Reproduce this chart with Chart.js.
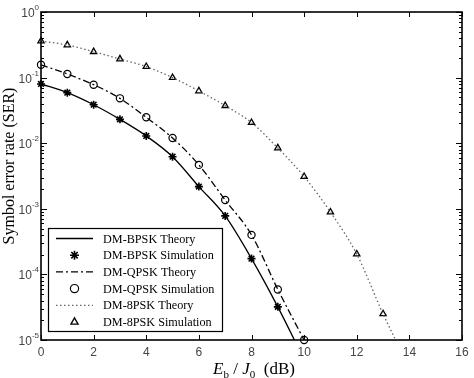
<!DOCTYPE html>
<html>
<head>
<meta charset="utf-8">
<script src="https://cdn.jsdelivr.net/npm/chart.js@4/dist/chart.umd.min.js"></script>
<style>
  html, body { margin: 0; padding: 0; background: #fff; }
  #wrap { width: 474px; height: 378px; position: relative; }
</style>
</head>
<body>
<div id="wrap"><canvas id="serChart"></canvas></div>
<script>
// Data (Eb/J0 in dB, SER)
const snrBpskSim = [0, 1, 2, 3, 4, 5, 6, 7, 8, 9];
const bpskSim = [0.080, 0.059, 0.0386, 0.0231, 0.0129, 0.00622, 0.00218, 7.8e-4, 1.74e-4, 3.2e-5];
const snrQpskSim = [0, 1, 2, 3, 4, 5, 6, 7, 8, 9, 10];
const qpskSim = [0.157, 0.1135, 0.078, 0.0483, 0.0248, 0.012, 0.00467, 0.00136, 4.0e-4, 5.9e-5, 1.0e-5];
const snr8pskSim = [0, 1, 2, 3, 4, 5, 6, 7, 8, 9, 10, 11, 12, 13];
const psk8Sim = [0.361, 0.314, 0.248, 0.192, 0.147, 0.100, 0.0625, 0.0373, 0.0206, 0.00845, 0.0031, 8.9e-4, 2.04e-4, 2.5e-5];

const snrBpskTheory = [0, 1, 2, 3, 4, 5, 6, 7, 8, 9, 10];
const bpskTheory = [0.080, 0.059, 0.0386, 0.0231, 0.0129, 0.00622, 0.00218, 7.8e-4, 1.74e-4, 3.2e-5, 5e-6];
const snrQpskTheory = [0, 1, 2, 3, 4, 5, 6, 7, 8, 9, 10];
const qpskTheory = [0.157, 0.1135, 0.078, 0.0483, 0.0248, 0.012, 0.00467, 0.00136, 4.0e-4, 5.9e-5, 1.0e-5];
const snr8pskTheory = [0, 1, 2, 3, 4, 5, 6, 7, 8, 9, 10, 11, 12, 13, 14];
const psk8Theory = [0.361, 0.314, 0.248, 0.192, 0.147, 0.100, 0.0625, 0.0373, 0.0206, 0.00845, 0.0031, 8.9e-4, 2.04e-4, 2.5e-5, 3.8e-6];

const seriesLabels = ['DM-BPSK Theory', 'DM-BPSK Simulation', 'DM-QPSK Theory',
                      'DM-QPSK Simulation', 'DM-8PSK Theory', 'DM-8PSK Simulation'];
const xTickStep = 2;
const yTickPowers = [0, -1, -2, -3, -4, -5];
const yMinorMantissas = [2, 3, 4, 5, 6, 7, 8, 9];

const toPoints = (xs, ys) => xs.map((x, i) => ({ x: x, y: ys[i] }));

const SERIF = '"Liberation Serif", "DejaVu Serif", serif';
const SANS = '"Liberation Sans", Arial, sans-serif';

// Lines and markers
const lineSet = (label, pts, dash, color) => ({
    label, data: pts, borderColor: color, borderWidth: 1.3, borderDash: dash,
    pointRadius: 0, fill: false, cubicInterpolationMode: 'monotone'
});
const markSet = (label, pts, style, radius, bw) => ({
    label, data: pts, showLine: false, pointStyle: style, pointRadius: radius,
    pointBorderWidth: bw, pointBorderColor: '#000', pointBackgroundColor: '#fff',
    borderColor: '#000', backgroundColor: '#fff', clip: false
});

const datasets = [
    lineSet(seriesLabels[0], toPoints(snrBpskTheory, bpskTheory), [], '#000'),
    markSet(seriesLabels[1], toPoints(snrBpskSim, bpskSim), 'star', 4, 1.6),
    lineSet(seriesLabels[2], toPoints(snrQpskTheory, qpskTheory), [7, 3, 2, 3], '#000'),
    markSet(seriesLabels[3], toPoints(snrQpskSim, qpskSim), 'circle', 3.6, 1.2),
    lineSet(seriesLabels[4], toPoints(snr8pskTheory, psk8Theory), [1.5, 2.5], '#666'),
    markSet(seriesLabels[5], toPoints(snr8pskSim, psk8Sim), 'triangle', 3.6, 1.3)
];

// Box, inward ticks, y labels, titles and legend
const framePlugin = {
    id: 'frame',
    afterDraw(chart) {
        const ctx = chart.ctx;
        const a = chart.chartArea;
        const xs = chart.scales.x, ys = chart.scales.y;
        ctx.save();
        ctx.strokeStyle = '#000';
        ctx.setLineDash([]);

        // x ticks, bottom and top
        ctx.lineWidth = 1;
        ctx.beginPath();
        xs.ticks.forEach(t => {
            const px = Math.round(xs.getPixelForValue(t.value)) + 0.5;
            ctx.moveTo(px, a.bottom); ctx.lineTo(px, a.bottom - 5);
            ctx.moveTo(px, a.top); ctx.lineTo(px, a.top + 5);
        });
        // y ticks, left and right
        yTickPowers.forEach(p => {
            const py = Math.round(ys.getPixelForValue(Math.pow(10, p))) + 0.5;
            ctx.moveTo(a.left, py); ctx.lineTo(a.left + 6, py);
            ctx.moveTo(a.right, py); ctx.lineTo(a.right - 6, py);
            if (p > -5) {
                yMinorMantissas.forEach(m => {
                    const my = Math.round(ys.getPixelForValue(m * Math.pow(10, p - 1))) + 0.5;
                    ctx.moveTo(a.left, my); ctx.lineTo(a.left + 3, my);
                    ctx.moveTo(a.right, my); ctx.lineTo(a.right - 3, my);
                });
            }
        });
        ctx.stroke();

        ctx.lineWidth = 1.6;
        ctx.strokeRect(a.left, a.top, a.right - a.left, a.bottom - a.top);

        // y labels 10^p
        ctx.fillStyle = '#444';
        ctx.textBaseline = 'alphabetic';
        yTickPowers.forEach(p => {
            const py = ys.getPixelForValue(Math.pow(10, p));
            const sup = String(p);
            ctx.font = '8px ' + SANS;
            const sw = ctx.measureText(sup).width;
            ctx.font = '12px ' + SANS;
            const bw = ctx.measureText('10').width;
            const right = a.left - 2;
            ctx.textAlign = 'left';
            ctx.fillText('10', right - sw - bw, py + 5);
            ctx.font = '8px ' + SANS;
            ctx.fillText(sup, right - sw, py - 2);
        });

        // y title
        ctx.fillStyle = '#000';
        ctx.save();
        ctx.translate(10, 166);
        ctx.rotate(-Math.PI / 2);
        ctx.font = '16px ' + SERIF;
        ctx.textAlign = 'center';
        ctx.textBaseline = 'middle';
        ctx.fillText('Symbol error rate (SER)', 0, 0);
        ctx.restore();

        // x title: E_b / J_0 (dB)
        const parts = [
            { t: 'E', f: 'italic 17px ' + SERIF, dy: 0 },
            { t: 'b', f: '11px ' + SERIF, dy: 4 },
            { t: ' / ', f: '17px ' + SERIF, dy: 0 },
            { t: 'J', f: 'italic 17px ' + SERIF, dy: 0 },
            { t: '0', f: '11px ' + SERIF, dy: 4 },
            { t: '  (dB)', f: '17px ' + SERIF, dy: 0 }
        ];
        let total = 0;
        parts.forEach(p => { ctx.font = p.f; p.w = ctx.measureText(p.t).width; total += p.w; });
        let cx = 254 - total / 2;
        ctx.textAlign = 'left';
        ctx.textBaseline = 'alphabetic';
        parts.forEach(p => { ctx.font = p.f; ctx.fillText(p.t, cx, 374 + p.dy); cx += p.w; });

        // legend
        const box = { x: 48.5, y: 228.5, w: 174, h: 103 };
        ctx.fillStyle = '#fff';
        ctx.fillRect(box.x, box.y, box.w, box.h);
        ctx.lineWidth = 1.2;
        ctx.strokeStyle = '#000';
        ctx.strokeRect(box.x, box.y, box.w, box.h);
        chart.data.datasets.forEach((ds, i) => {
            const cy = 238.5 + i * 16.7;
            if (ds.showLine === false) {
                ctx.setLineDash([]);
                ctx.strokeStyle = '#000';
                ctx.fillStyle = '#fff';
                ctx.lineWidth = ds.pointBorderWidth;
                Chart.helpers.drawPoint(ctx, {
                    pointStyle: ds.pointStyle, radius: ds.pointRadius + 0.5,
                    borderWidth: ds.pointBorderWidth, rotation: 0
                }, 74.5, cy);
            } else {
                ctx.strokeStyle = ds.borderColor;
                ctx.lineWidth = ds.borderWidth;
                ctx.setLineDash(ds.borderDash);
                ctx.beginPath();
                ctx.moveTo(56, cy); ctx.lineTo(93, cy);
                ctx.stroke();
            }
            ctx.setLineDash([]);
            ctx.fillStyle = '#000';
            ctx.font = '12.2px ' + SERIF;
            ctx.textBaseline = 'middle';
            ctx.textAlign = 'left';
            ctx.fillText(ds.label, 103, cy + 1);
        });
        ctx.restore();
    }
};

const chart = new Chart(document.getElementById('serChart').getContext('2d'), {
    type: 'line',
    data: { datasets },
    options: {
        responsive: true,
        maintainAspectRatio: false,
        animation: false,
        devicePixelRatio: 1,
        layout: { padding: { top: 12, right: 12, left: 0, bottom: 0 } },
        plugins: { legend: { display: false }, tooltip: { enabled: false } },
        scales: {
            x: {
                type: 'linear', min: 0, max: 16,
                grid: { display: false, drawTicks: false },
                border: { display: false },
                ticks: { stepSize: xTickStep, padding: 5, color: '#444',
                         font: { family: SANS, size: 12 }, maxRotation: 0 },
                afterFit: s => { s.height = 38; }
            },
            y: {
                type: 'logarithmic', min: 1e-5, max: 1,
                grid: { display: false, drawTicks: false },
                border: { display: false },
                ticks: { display: false },
                afterFit: s => { s.width = 41; }
            }
        }
    },
    plugins: [framePlugin]
});
</script>
</body>
</html>
